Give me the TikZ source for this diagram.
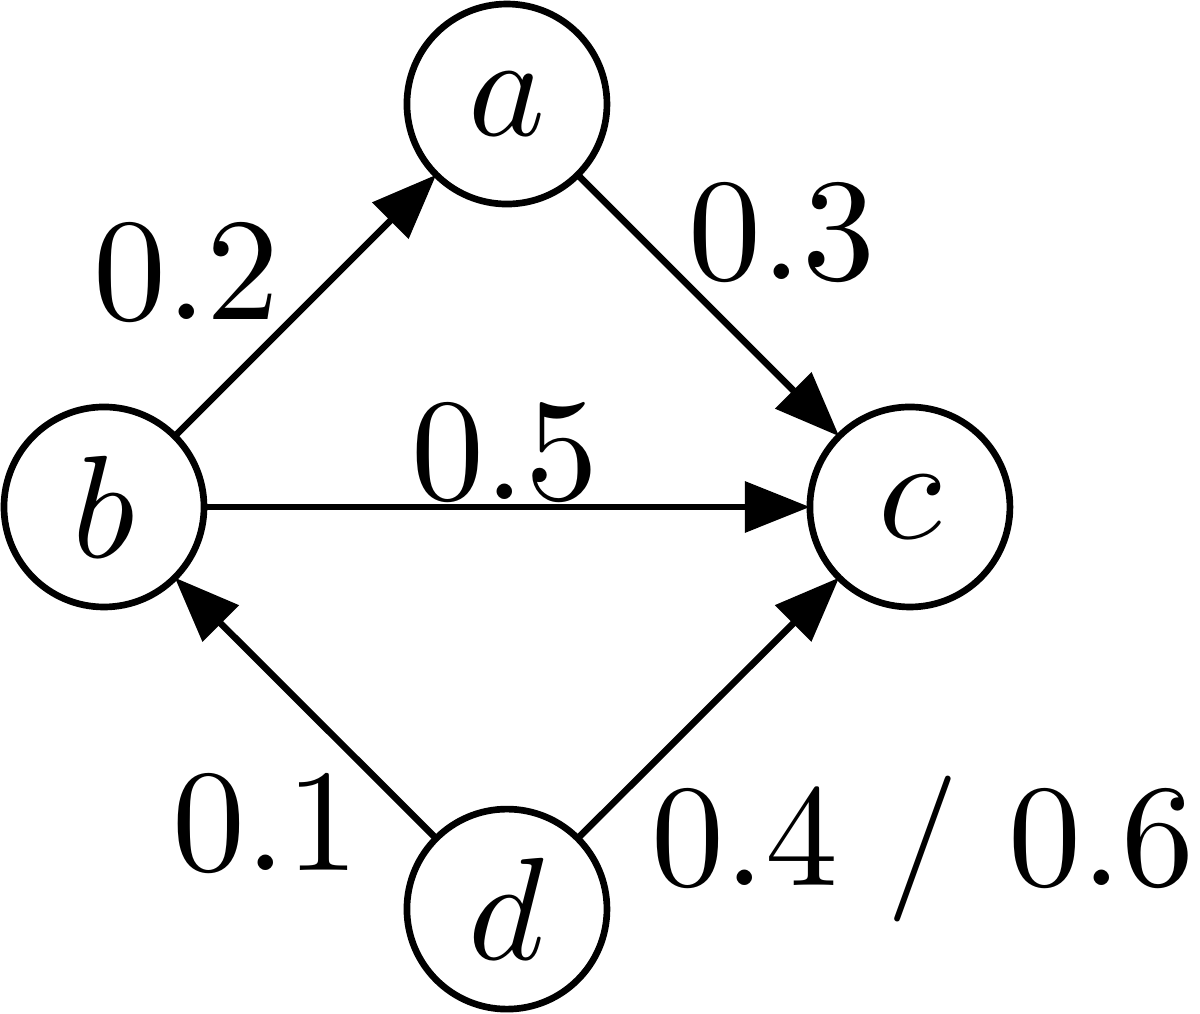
\documentclass[tikz,border=0pt]{standalone}
\usepackage{tikz}
\usetikzlibrary{positioning,arrows.meta}
\tikzset{
    >={Triangle[length=6.5mm, width=5mm]},
    vertex/.style = {draw, circle, line width = 1.9pt, minimum size = 4.82mm, inner sep = 0pt, outer sep = 0pt},
    weight/.style = {anchor = base, inner sep = 0pt},
}

\begin{document}
\begin{tikzpicture}[scale = 4.15, every node/.append style = {transform shape}, line width = 1.9pt]
    \useasboundingbox (-0.2506,-1.2217) rectangle (2.6410,1.2217);

    \node (b) [vertex] at (0,0) {$b$};
    \node (a) [vertex] at (0.971,0.971) {$a$};
    \node (c) [vertex] at (1.942,0) {$c$};
    \node (d) [vertex] at (0.971,-0.969) {$d$};

    \draw [->] (b) -- (a);
    \draw [->] (a) -- (c);
    \draw [->] (b) -- (c);
    \draw [->] (d) -- (b);
    \draw [->] (d) -- (c);

    \node (wba) [weight] at (0.199,0.451) {0.2};
    \node (wac) [weight] at (1.634,0.547) {0.3};
    \node (wbc) [weight] at (0.966,0.017) {0.5};
    \node (wdb) [weight] at (0.390,-0.875) {0.1};
    \node (wdc) [weight, anchor = base west] at (1.287,-0.913) {0.4 / 0.6};
\end{tikzpicture}
\end{document}
